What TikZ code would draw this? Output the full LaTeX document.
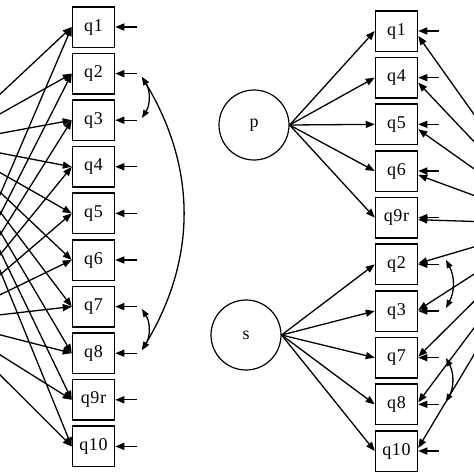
\documentclass[tikz,border=0pt]{standalone}
\usepackage{fontspec}
\setmainfont{Liberation Serif}
\usetikzlibrary{arrows.meta,calc}
\begin{document}
\begin{tikzpicture}[x=1pt,y=-1pt,
  item/.style={draw,line width=1.5pt,minimum width=42pt,minimum height=40.5pt,inner sep=0pt,
    font=\fontsize{18}{18}\selectfont\addfontfeature{LetterSpace=4}},
  lat/.style={draw,circle,line width=1.2pt,minimum size=70pt,inner sep=0pt,font=\fontsize{18}{18}\selectfont},
  arr/.style={line width=1.3pt,-{Triangle[length=9pt,width=7pt]}},
  dbl/.style={line width=1.3pt,{Triangle[length=8pt,width=6pt]}-{Triangle[length=8pt,width=6pt]}}
]
\useasboundingbox (0,0) rectangle (474,474);
\fill[white] (0,0) rectangle (474,474);
\clip (0,0) rectangle (474,474);

% ---------- left panel ----------
\foreach \n/\k in {1/0,2/1,3/2,4/3,5/4,6/5,7/6,8/7,9r/8,10/9}{
  \node[item] (L\n) at (93.5,{27+46.6*\k}) {q\n};
  \coordinate (LE\n) at (137,{27+46.6*\k});
}
\coordinate (A) at (-52,143);
\coordinate (B) at (-54,321);
\foreach \n in {1,2,3,4,5,6,7,8,9r,10}{
  \draw[arr] (A) -- (L\n.west);
  \draw[arr] (B) -- (L\n.west);
  \draw[arr] (LE\n) -- (L\n.east);
}
\coordinate (c2) at (142,77);
\coordinate (c3) at (142,118);
\coordinate (c7) at (142,309);
\coordinate (c8) at (142,350);
\draw[dbl] (c2) to[bend left=32] (c3);
\draw[dbl] (c7) to[bend left=32] (c8);
\draw[dbl] (c2) to[bend left=31] (c8);

% ---------- right panel ----------
\foreach \n/\k in {1/0,4/1,5/2,6/3,9r/4,2/5,3/6,7/7,8/8,10/9}{
  \node[item] (R\n) at (396.5,{31+46.67*\k}) {q\n};
  \coordinate (RE\n) at (439,{31+46.67*\k});
}
\node[lat] (p) at (254,125) {p};
\node[lat] (s) at (246,335) {s};
\coordinate (G) at (552,224);
\foreach \n in {1,4,5,6,9r}{
  \draw[arr] (p.east) -- (R\n.west);
}
\foreach \n in {2,3,7,8,10}{
  \draw[arr] (s.east) -- (R\n.west);
}
\foreach \n/\d in {1/5,4/5,5/5,6/4,9r/2,2/-1,3/-1,7/-1,8/-2,10/-3}{
  \draw[arr] (G) -- ($(R\n.east)+(0,\d)$);
  \draw[arr] (RE\n) -- (R\n.east);
}
\coordinate (d2) at (446,260);
\coordinate (d3) at (446,308);
\coordinate (d7) at (446,358);
\coordinate (d8) at (446,402);
\draw[dbl] (d2) to[bend left=28] (d3);
\draw[dbl] (d7) to[bend left=28] (d8);
\end{tikzpicture}
\end{document}
